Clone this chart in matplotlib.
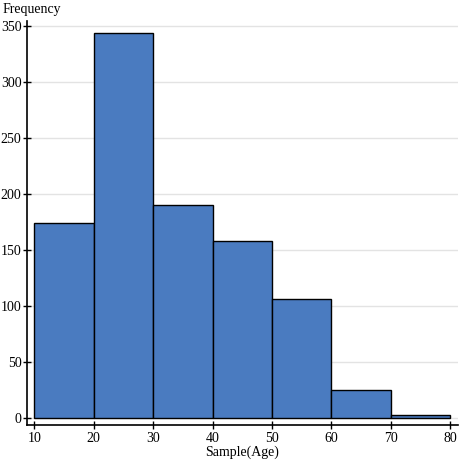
#!/usr/bin/env python
"""Histogram of sample ages."""

import matplotlib

matplotlib.use("Agg")
import matplotlib.pyplot as plt

bin_edges = [10, 20, 30, 40, 50, 60, 70, 80]
counts = [174, 344, 190, 158, 106, 25, 3]
y_ticks = [0, 50, 100, 150, 200, 250, 300, 350]

plt.rcParams["font.family"] = ["Liberation Serif", "DejaVu Serif"]

W, H = 465, 465
fig = plt.figure(figsize=(W / 100, H / 100), dpi=100)

# axes box in pixels: left spine at x=27, bottom spine at y=425
left, right, top, bottom = 27, 458, 21, 425
ax = fig.add_axes([left / W, 1 - bottom / H, (right - left) / W, (bottom - top) / H])

lefts = bin_edges[:-1]
widths = [b - a for a, b in zip(bin_edges[:-1], bin_edges[1:])]
ax.bar(lefts, counts, width=widths, align="edge", color="#4a7bc0",
       edgecolor="black", linewidth=1.0, zorder=3)

# data -> pixel: x 10 at 34.3, 80 at 450.3 ; y 0 at 418, 350 at 26
px_x = (450.3 - 34.3) / 70
px_y = (418 - 26) / 350
ax.set_xlim(10 - (34.3 - left) / px_x, 80 + (right - 450.3) / px_x)
ax.set_ylim(0 - (bottom - 418) / px_y, 350 + (26 - top) / px_y)

ax.set_xticks(bin_edges)
ax.set_yticks(y_ticks)
ax.yaxis.grid(True, color="#e3e3e3", linewidth=1.0, zorder=0)
ax.set_axisbelow(True)

for side in ("top", "right"):
    ax.spines[side].set_visible(False)
for side in ("left", "bottom"):
    ax.spines[side].set_linewidth(1.2)
ax.tick_params(direction="inout", length=6, width=1.0, labelsize=10)
ax.tick_params(axis="y", pad=1)
ax.tick_params(axis="x", pad=2)

fig.text(3 / W, 1 - 9 / H, "Frequency", fontsize=10, ha="left", va="center")
fig.text(242 / W, 1 - 452 / H, "Sample(Age)", fontsize=10, ha="center", va="center")

fig.savefig("out.png", dpi=100)
